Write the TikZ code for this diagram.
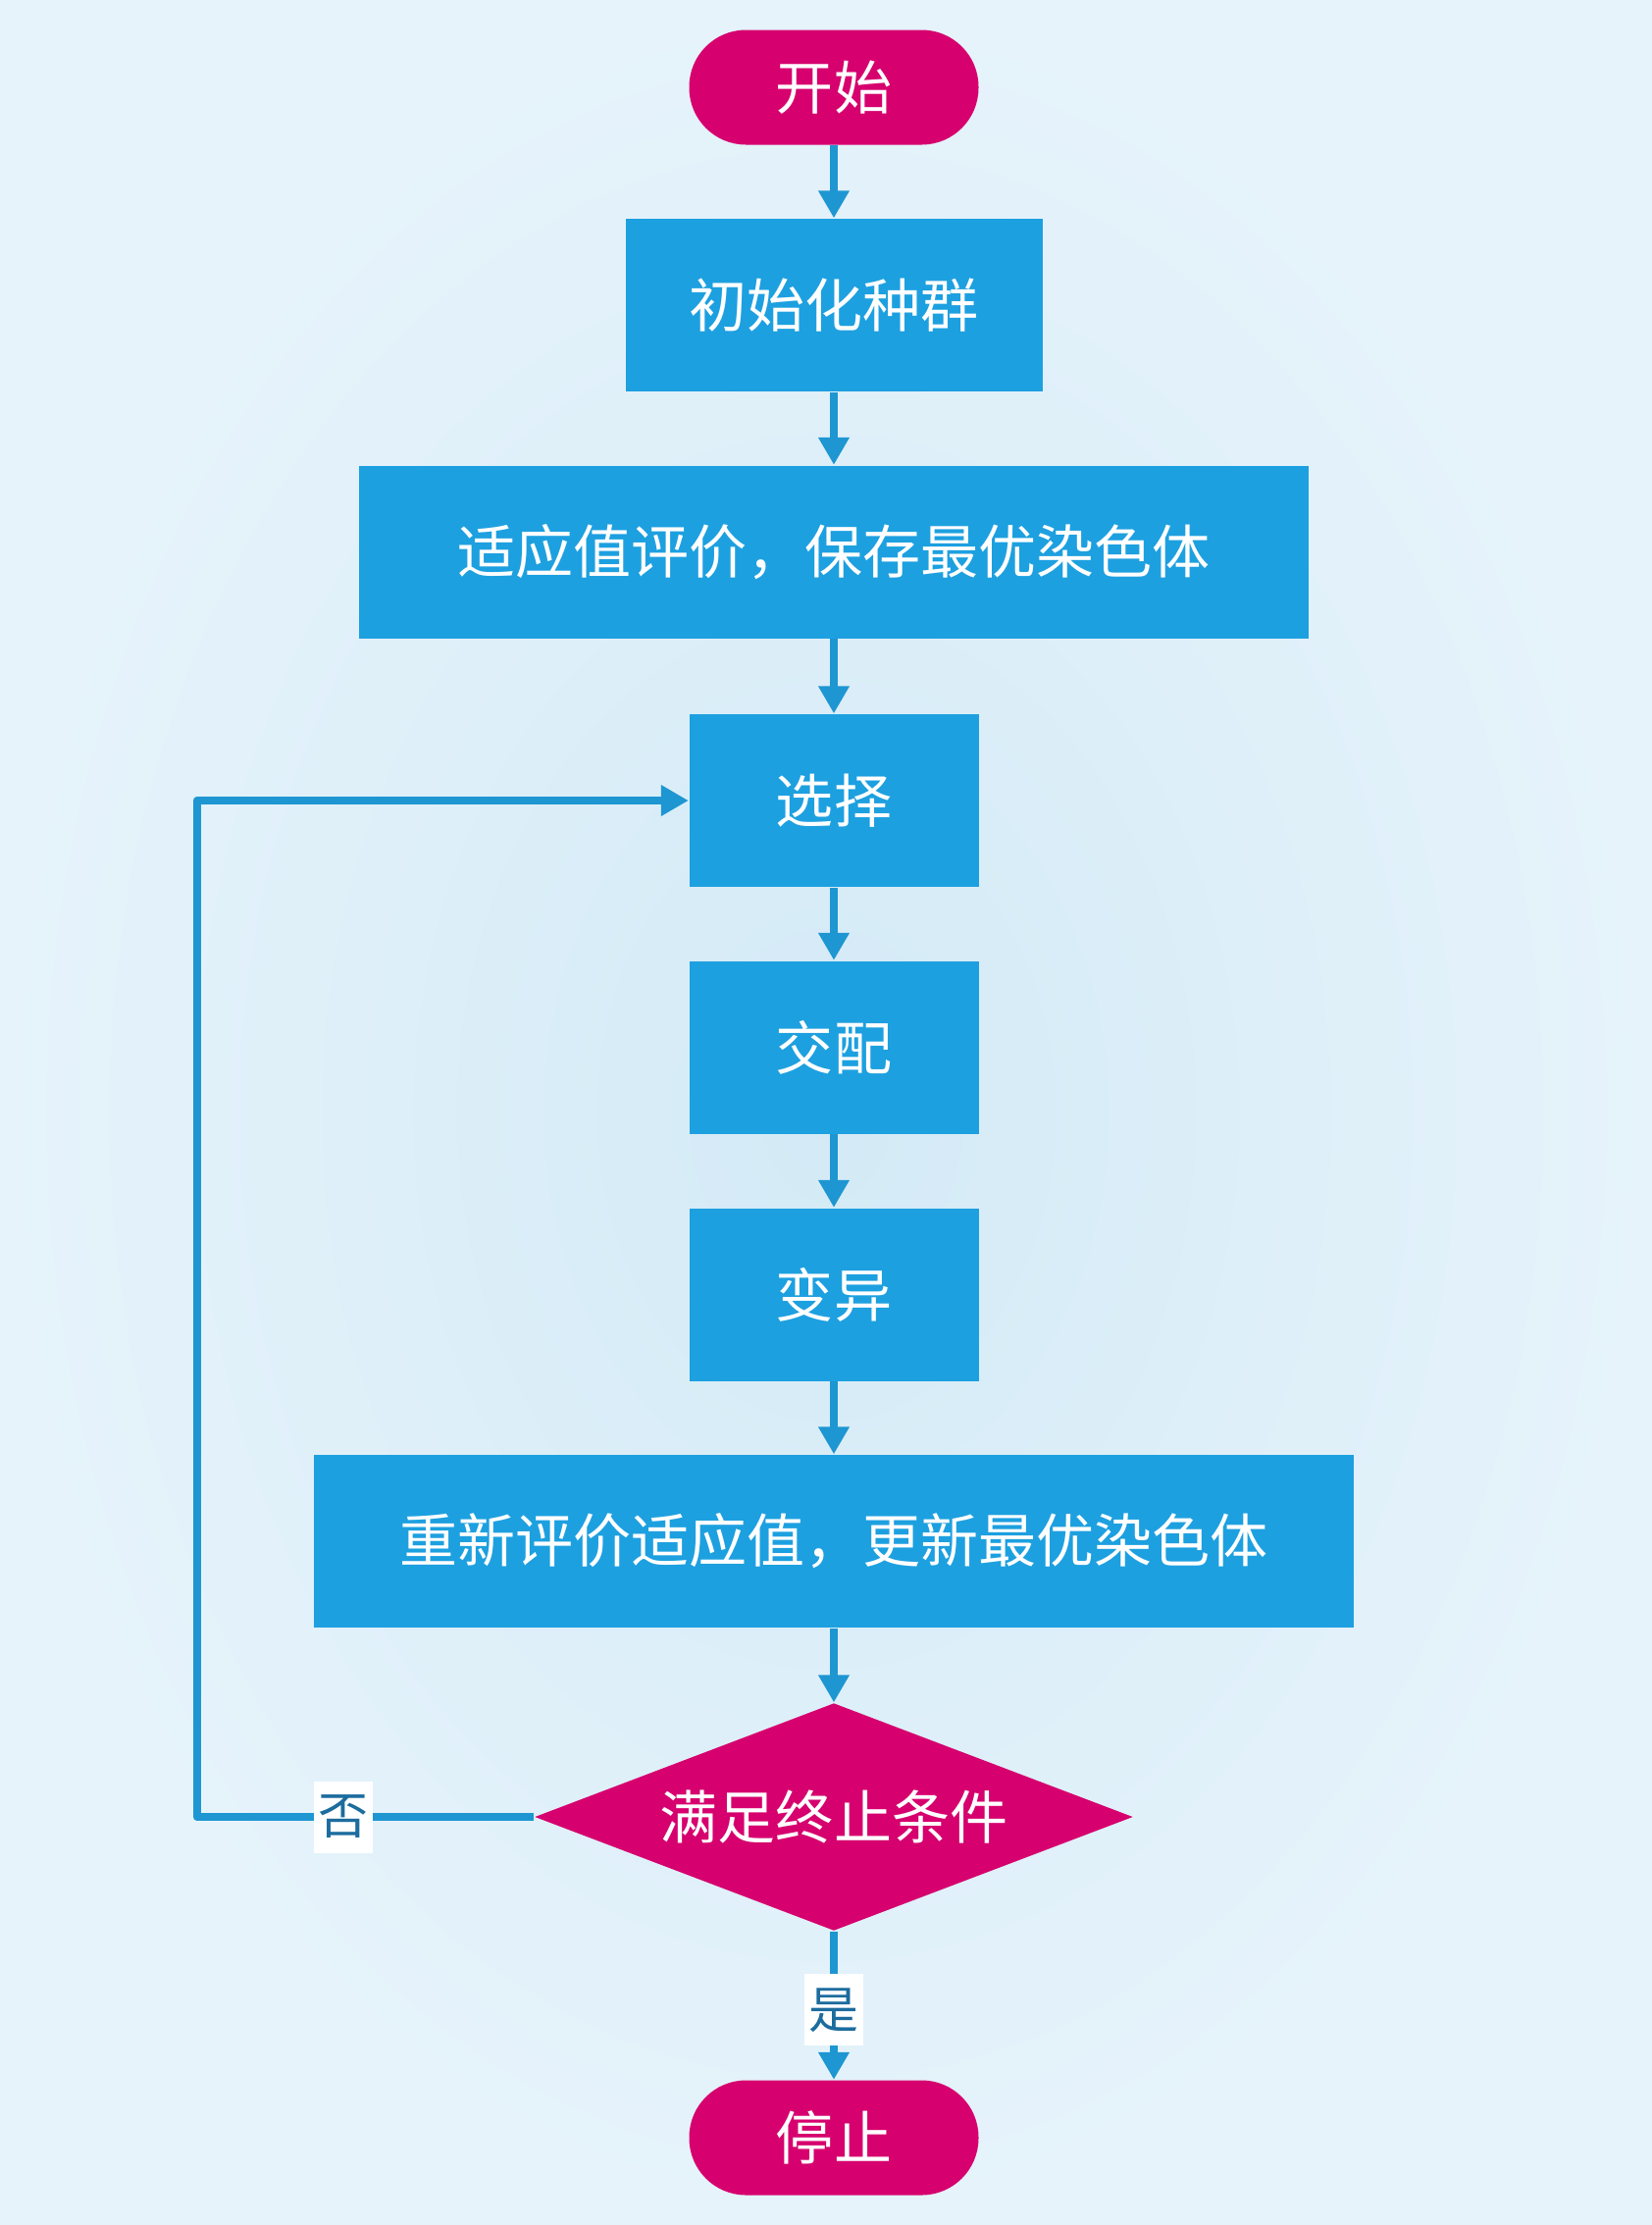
\documentclass[tikz,border=0pt]{standalone}
\usepackage{fontspec}
\setmainfont{Noto Sans CJK SC}
\usetikzlibrary{shapes.geometric,arrows.meta}
\definecolor{termred}{RGB}{214,0,110}
\definecolor{boxblue}{RGB}{29,160,224}
\definecolor{lineblue}{RGB}{30,150,210}
\definecolor{labblue}{RGB}{28,108,158}
\definecolor{bginner}{RGB}{211,234,246}
\definecolor{bgouter}{RGB}{230,243,251}
\begin{document}
\begin{tikzpicture}[
        box/.style={fill=boxblue, text=white, minimum height=1.76cm, inner sep=0pt, font=\fontsize{16.8}{20}\selectfont},
        term/.style={box, fill=termred, rounded corners=0.58cm, minimum height=1.17cm, minimum width=2.95cm},
        cond/.style={box, diamond, aspect=2.63, fill=termred, minimum width=6.1cm, minimum height=2.32cm},
        flow/.style={draw=lineblue, line width=2.5pt, line join=round, -{Triangle[width=0.3cm,length=0.28cm]}},
        lab/.style={fill=white, text=labblue, inner sep=0pt, minimum width=0.6cm, minimum height=0.73cm, font=\fontsize{14.5}{16}\selectfont}
    ]
        \shade[inner color=bginner, outer color=bgouter] (0,0) rectangle (16.84,-22.68);

        \node[term] (start) at (8.5,-0.89) {开始};
        \node[box, minimum width=4.25cm] (init) at (8.5,-3.11) {初始化种群};
        \node[box, minimum width=9.68cm] (eval) at (8.5,-5.625) {适应值评价，保存最优染色体};
        \node[box, minimum width=2.95cm] (select) at (8.5,-8.16) {选择};
        \node[box, minimum width=2.95cm] (cross) at (8.5,-10.675) {交配};
        \node[box, minimum width=2.95cm] (mutate) at (8.5,-13.195) {变异};
        \node[box, minimum width=10.6cm] (update) at (8.5,-15.71) {重新评价适应值，更新最优染色体};
        \node[cond] (check) at (8.5,-18.52) {满足终止条件};
        \node[term] (stop) at (8.5,-21.79) {停止};

        \coordinate (back) at (2.01,-18.52);

        \draw[flow] (start) -- (init);
        \draw[flow] (init) -- (eval);
        \draw[flow] (eval) -- (select);
        \draw[flow] (select) -- (cross);
        \draw[flow] (cross) -- (mutate);
        \draw[flow] (mutate) -- (update);
        \draw[flow] (update) -- (check);
        \draw[flow] (check) -- node[lab, pos=0.53] {是} (stop);

        % loop back when not done
        \draw[flow] (check.west) -- node[lab, pos=0.566] {否} (back) |- (select.west);
    \end{tikzpicture}
\end{document}
